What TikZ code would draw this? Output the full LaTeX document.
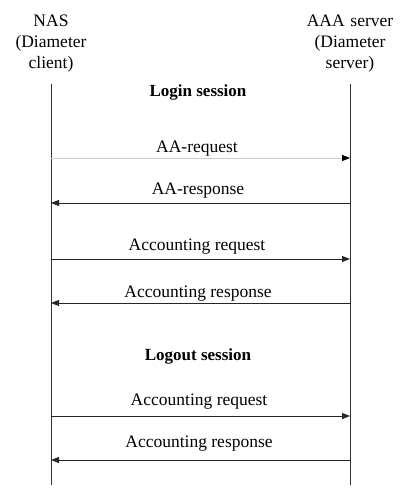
\documentclass[tikz,border=0pt]{standalone}
\usepackage{fontspec}
\setmainfont{Liberation Serif}
\usetikzlibrary{arrows.meta}
\begin{document}
\begin{tikzpicture}[x=1pt,y=-1pt,
  lbl/.style={font=\fontsize{17.5}{21}\selectfont, inner sep=0pt, align=center},
  ttl/.style={font=\bfseries\fontsize{17}{20}\selectfont, inner sep=0pt},
  life/.style={line width=0.8pt, black!80},
  msg/.style={line width=0.8pt, black!85, -{Triangle[length=8pt,width=6pt]}},
  msggray/.style={line width=0.9pt, black!20, -{Triangle[length=8pt,width=6pt,fill=black,color=black]}}]
\useasboundingbox (0,0) rectangle (408,494);
\fill[white] (0,0) rectangle (408,494);
\node[lbl, text width=110pt] (nas) at (51,44) {NAS\\(Diameter\\client)};
\node[lbl, text width=110pt] (aaa) at (350,44) {AAA server\\(Diameter\\server)};
\coordinate (l0) at (51,84);
\coordinate (l1) at (51,485);
\coordinate (r0) at (350,84);
\coordinate (r1) at (350,485);
\draw[life] (l0) -- (l1);
\draw[life] (r0) -- (r1);
\node[ttl] (login) at (198,92) {Login session};
\node[ttl] (logout) at (198,356) {Logout session};
% message endpoints
\coordinate (a1) at (51,158); \coordinate (b1) at (350,158);
\coordinate (a2) at (51,203); \coordinate (b2) at (350,203);
\coordinate (a3) at (51,259); \coordinate (b3) at (350,259);
\coordinate (a4) at (51,303); \coordinate (b4) at (350,303);
\coordinate (a5) at (51,416); \coordinate (b5) at (350,416);
\coordinate (a6) at (51,460); \coordinate (b6) at (350,460);
\draw[msggray] (a1) -- (b1);
\draw[msg] (b2) -- (a2);
\draw[msg] (a3) -- (b3);
\draw[msg] (b4) -- (a4);
\draw[msg] (a5) -- (b5);
\draw[msg] (b6) -- (a6);
\node[lbl] (m1) at (197,149) {AA-request};
\node[lbl] (m2) at (198,191) {AA-response};
\node[lbl] (m3) at (197,247) {Accounting request};
\node[lbl] (m4) at (198,294) {Accounting response};
\node[lbl] (m5) at (199,402) {Accounting request};
\node[lbl] (m6) at (199,444) {Accounting response};
\end{tikzpicture}
\end{document}
